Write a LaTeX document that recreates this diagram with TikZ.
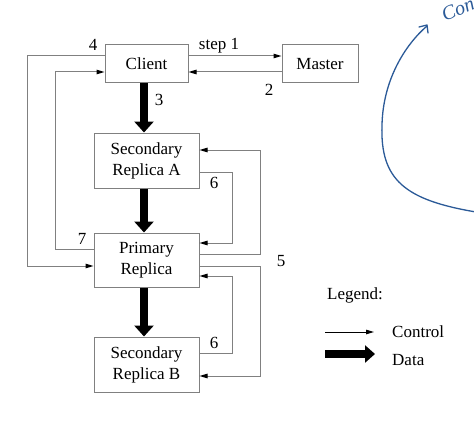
\documentclass[tikz,border=0pt]{standalone}
\usepackage{fontspec}
\setmainfont{Liberation Serif}
\usetikzlibrary{arrows.meta}
\definecolor{boxgray}{HTML}{808080}
\definecolor{ink}{HTML}{2B5A98}
\begin{document}
\begin{tikzpicture}[x=1pt,y=-1pt,
  every node/.style={font=\fontsize{17}{21}\selectfont},
  box/.style={draw=boxgray, line width=1pt, align=center, inner sep=0pt},
  ctrl/.style={draw=boxgray, line width=1pt, -{Triangle[length=8pt,width=4.5pt,fill=black,color=black]}},
  cline/.style={draw=boxgray, line width=1pt},
  data/.style={line width=8pt, -{Triangle[length=11pt,width=19pt]}, black},
  lbl/.style={inner sep=0pt}]
\useasboundingbox (0,0) rectangle (474,428);
\clip (0,0) rectangle (474,428);
\fill[white] (0,0) rectangle (474,428);

\node[box, minimum width=83pt, minimum height=38pt] (C) at (146.5,64) {Client};
\node[box, minimum width=76pt, minimum height=38pt] (M) at (320,64) {Master};
\node[box, minimum width=105pt, minimum height=55pt] (A) at (146.5,160.5) {Secondary\\Replica A};
\node[box, minimum width=105pt, minimum height=54pt] (P) at (146.5,260) {Primary\\Replica};
\node[box, minimum width=105pt, minimum height=55pt] (B) at (146.5,364.5) {Secondary\\Replica B};

% data flow
\draw[data] ([xshift=-2.5pt]C.south) -- ([xshift=-2.5pt]A.north);
\draw[data] ([xshift=-2.5pt]A.south) -- ([xshift=-2.5pt]P.north);
\draw[data] ([xshift=-2.5pt]P.south) -- ([xshift=-2.5pt]B.north);

% control flow
\draw[ctrl] ([yshift=8pt]C.east) -- ([yshift=8pt]M.west);
\draw[ctrl] ([yshift=-8pt]M.west) -- ([yshift=-8pt]C.east);
\draw[ctrl] ([yshift=8pt]C.west) -- ++(-77,0) |- ([yshift=-6pt]P.west);
\draw[ctrl] ([yshift=11pt]P.west) -- ++(-38,0) |- ([yshift=-8pt]C.west);
\draw[ctrl] ([yshift=6pt]P.east) -- ++(61,0) |- ([yshift=10.5pt]A.east);
\draw[ctrl] ([yshift=-6pt]P.east) -- ++(61,0) |- ([yshift=-11.5pt]B.east);
\draw[ctrl] ([yshift=-11.5pt]A.east) -- ++(33,0) |- ([yshift=17pt]P.east);
\draw[ctrl] ([yshift=11.5pt]B.east) -- ++(33,0) |- ([yshift=-16pt]P.east);

% labels
\node[lbl] (l1) at (219,46) {step 1};
\node[lbl] (l2) at (269,90) {2};
\node[lbl] (l3) at (159,100) {3};
\node[lbl] (l4) at (93,45) {4};
\node[lbl] (l5) at (281,261) {5};
\node[lbl] (l6a) at (214,183) {6};
\node[lbl] (l6b) at (214,343) {6};
\node[lbl] (l7) at (82,239) {7};

% legend
\node[lbl, anchor=west] (leg) at (327,295) {Legend:};
\coordinate (c1) at (325,332);
\coordinate (c2) at (374,332);
\draw[ctrl, draw=black] (c1) -- (c2);
\node[lbl, anchor=west] (lc) at (392,332) {Control};
\coordinate (d1) at (325,354);
\coordinate (d2) at (375,354);
\draw[line width=8pt, -{Triangle[length=10pt,width=17pt]}, black] (d1) -- (d2);
\node[lbl, anchor=west] (ld) at (392,360) {Data};

% handwritten annotation
\draw[ink, line width=1.3pt, line cap=round]
  (476,212) .. controls (405,200) and (380,180) .. (382,125)
  .. controls (383,80) and (405,45) .. (427,26);
\draw[ink, line width=1.3pt, line cap=round, line join=round]
  (419,27) -- (427,25) -- (428,33);
\node[ink, rotate=22, inner sep=0pt, font=\fontsize{20}{20}\itshape] (con) at (458,9) {Con};
\end{tikzpicture}
\end{document}
